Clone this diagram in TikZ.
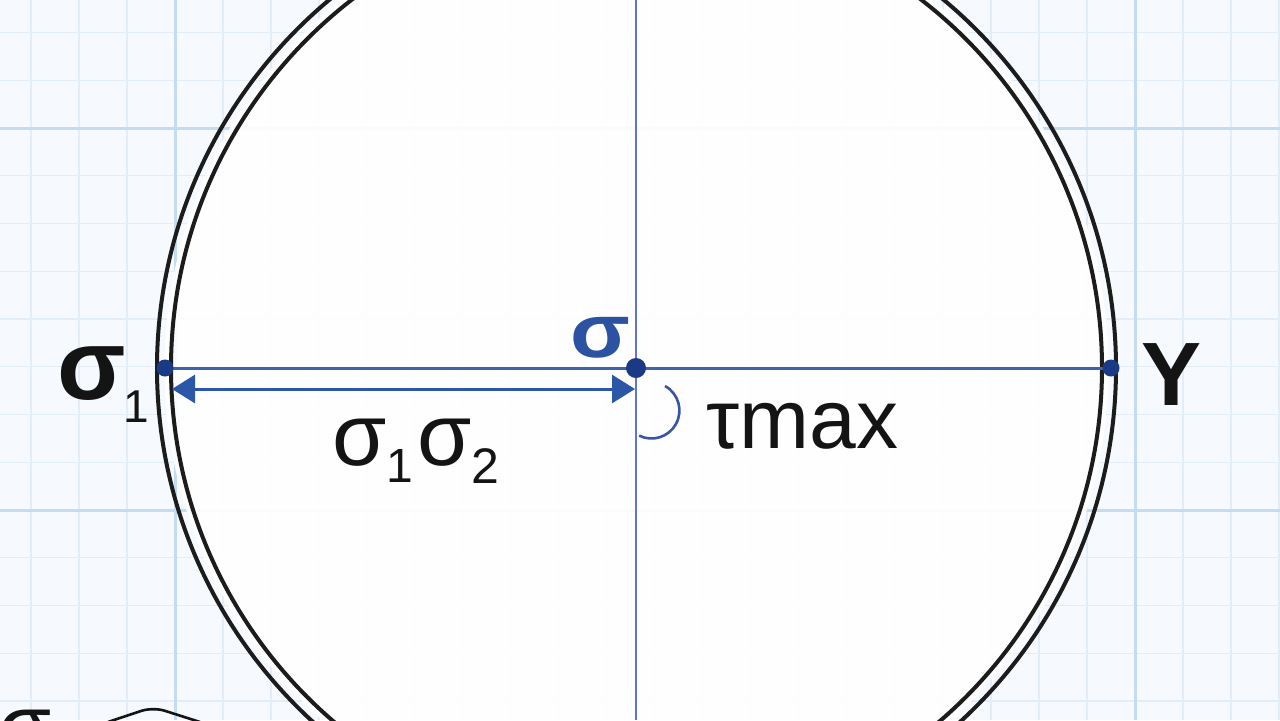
\documentclass[tikz,border=0pt]{standalone}
\usepackage{fontspec}
\setmainfont{Liberation Sans}
\usetikzlibrary{arrows.meta}
\definecolor{bgc}{HTML}{F6F9FD}
\definecolor{minorc}{HTML}{E2EDF8}
\definecolor{majorc}{HTML}{C5DBEF}
\definecolor{ringc}{HTML}{1C1C1C}
\definecolor{axisc}{HTML}{3D63AA}
\definecolor{vertc}{HTML}{6275CC}
\definecolor{dotc}{HTML}{1B3A85}
\definecolor{arrc}{HTML}{2B57A6}
\definecolor{sigc}{HTML}{2C52A2}
\definecolor{arcc}{HTML}{3A55A8}
\definecolor{txtc}{HTML}{141414}
\begin{document}
\begin{tikzpicture}[x=0.5pt,y=-0.5pt,
  minorline/.style={minorc, line width=0.7pt},
  majorline/.style={majorc, line width=1.5pt},
  ring/.style={ringc, line width=2pt},
  dotnode/.style={circle, fill=dotc, inner sep=0pt, minimum size=8.5pt},
  lbl/.style={inner sep=0pt, anchor=base west, text=txtc},
  dimarrow/.style={arrc, line width=1.5pt, >={Triangle[length=11.5pt,width=14pt]}, <->}
]
\useasboundingbox (0,0) rectangle (1280,720);
\clip (0,0) rectangle (1280,720);
\fill[bgc] (0,0) rectangle (1280,720);
\foreach \i in {-3,...,23} \draw[minorline] ({175+48*\i},0) -- ({175+48*\i},720);
\foreach \j in {-2,...,12} \draw[minorline] (0,{128+47.75*\j}) -- (1280,{128+47.75*\j});
\foreach \x in {175,1135} \draw[majorline] (\x,0) -- (\x,720);
\foreach \y in {128,510} \draw[majorline] (0,\y) -- (1280,\y);
% Mohr circle
\coordinate (C) at (636.5,368);
\fill[white, fill opacity=0.9] (C) circle [radius=236pt];
\draw[ring] (C) circle [radius=239.75pt];
\draw[ring] (C) circle [radius=232.75pt];
% vertical axis
\coordinate (VT) at (636,0);
\coordinate (VB) at (636,720);
\draw[vertc, line width=1.3pt] (VT) -- (VB);
% horizontal diameter
\coordinate (l) at (165,368);
\coordinate (o) at (636,368);
\coordinate (r) at (1111,368);
\draw[axisc, line width=1.5pt] (l) -- (r);
\node[dotnode] (L) at (l) {};
\node[dotnode, minimum size=10pt] (O) at (o) {};
\node[dotnode] (R) at (r) {};
% dimension arrow
\coordinate (a1) at (172,389);
\coordinate (a2) at (635,389);
\draw[dimarrow] (a1) -- (a2);
% small arc
\coordinate (arcS) at (665,386);
\draw[arcc, line width=1.3pt] (arcS) arc[start angle=-61, end angle=116, radius=28];
% labels
\node[lbl, font=\fontsize{50}{50}\selectfont\bfseries] (s1) at (57,399) {σ\kern-1pt\raisebox{-11.5pt}{\fontsize{23}{23}\selectfont\mdseries 1}};
\node[lbl, font=\fontsize{45}{45}\selectfont\bfseries] (Y) at (1141,405) {Y};
\node[lbl, text=sigc, font=\fontsize{38}{38}\selectfont\bfseries] (sig) at (570,357) {\scalebox{1.15}[1]{σ}};
\node[lbl, font=\fontsize{44}{44}\selectfont] (s12) at (332,465) {σ\raisebox{-8.5pt}{\fontsize{24}{24}\selectfont 1}\kern2pt σ\raisebox{-9pt}{\fontsize{25}{25}\selectfont 2}};
\node[lbl, font=\fontsize{42}{42}\selectfont] (tau) at (706,448) {τmax};
% partial items at bottom left
\node[lbl, font=\fontsize{43}{43}\selectfont] (s3) at (-2,755) {σ};
\coordinate (h1) at (108,722);
\coordinate (h2) at (153,707);
\coordinate (h3) at (200,722);
\draw[txtc, line width=1.3pt, rounded corners=6pt] (h1) -- (h2) -- (h3);
\end{tikzpicture}
\end{document}
